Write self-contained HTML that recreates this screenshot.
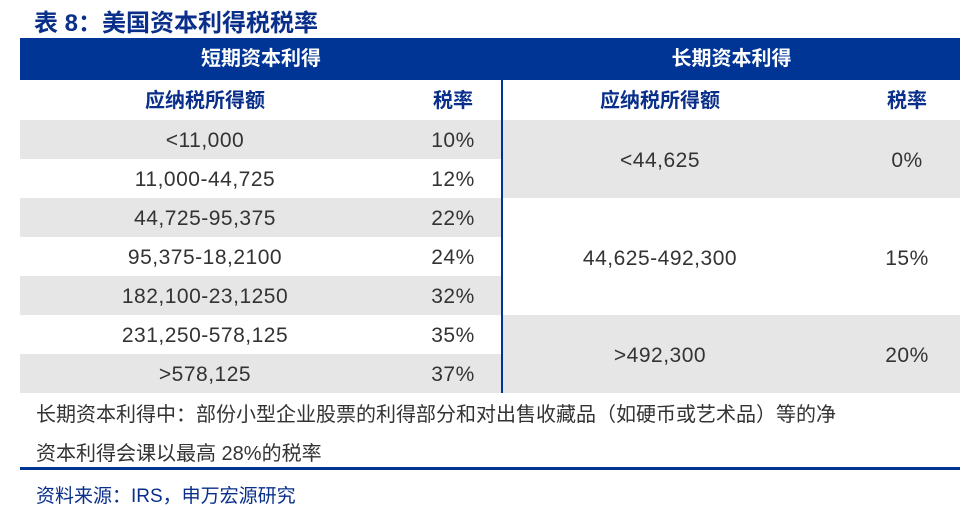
<!DOCTYPE html>
<html><head><meta charset="utf-8"><style>
body{margin:0;width:976px;height:510px;background:#fff;font-family:"Liberation Sans","Noto Sans CJK SC",sans-serif;position:relative;overflow:hidden;color:#333}
.a{position:absolute}
.t{left:34px;top:3px;font-size:24px;font-weight:bold;color:#0a2f8a}
.hb{left:20px;top:38px;width:940px;height:42px;background:#003595}
.hd{top:38px;height:42px;line-height:42px;color:#fff;font-weight:bold;font-size:20px;text-align:center}
.sh{top:80px;height:40px;line-height:42px;color:#0a2f8a;font-weight:bold;font-size:20px;text-align:center}
.r{left:20px;width:482px;height:39px}
.c{line-height:41px;font-size:21px;text-align:center;letter-spacing:0.5px}
.g{background:#e6e6e6}
</style></head><body>
<div class="a t">表 8：美国资本利得税税率</div>
<div class="a hb"></div>
<div class="a hd" style="left:20px;width:482px">短期资本利得</div>
<div class="a hd" style="left:503px;width:457px">长期资本利得</div>
<div class="a sh" style="left:70px;width:270px">应纳税所得额</div>
<div class="a sh" style="left:413px;width:80px">税率</div>
<div class="a sh" style="left:545px;width:230px">应纳税所得额</div>
<div class="a sh" style="left:867px;width:80px">税率</div>
<div id="rows"></div>
<div class="a g" style="left:503px;top:120px;width:457px;height:78px"></div>
<div class="a c" style="left:545px;top:140px;width:230px">&lt;44,625</div>
<div class="a c" style="left:867px;top:140px;width:80px">0%</div>
<div class="a c" style="left:545px;top:238px;width:230px">44,625-492,300</div>
<div class="a c" style="left:867px;top:238px;width:80px">15%</div>
<div class="a g" style="left:503px;top:315px;width:457px;height:78px"></div>
<div class="a c" style="left:545px;top:335px;width:230px">&gt;492,300</div>
<div class="a c" style="left:867px;top:335px;width:80px">20%</div>
<div class="a" style="left:501px;top:80px;width:2px;height:313px;background:#003595"></div>
<div class="a" style="left:36px;top:396px;width:930px;font-size:20px;line-height:39px;white-space:nowrap">长期资本利得中：部份小型企业股票的利得部分和对出售收藏品（如硬币或艺术品）等的净<br>资本利得会课以最高 28%的税率</div>
<div class="a" style="left:20px;top:467px;width:940px;height:3px;background:#003595"></div>
<div class="a" style="left:36px;top:481px;font-size:19px;color:#0a2f8a">资料来源：IRS，申万宏源研究</div>
<script>
const incomes=["<11,000","11,000-44,725","44,725-95,375","95,375-18,2100","182,100-23,1250","231,250-578,125",">578,125"];
const rates=["10%","12%","22%","24%","32%","35%","37%"];
const box=document.getElementById('rows');
incomes.forEach((inc,i)=>{
  const top=120+i*39;
  const r=document.createElement('div');
  r.className='a r'+(i%2===0?' g':'');
  r.style.top=top+'px';
  
  
  box.appendChild(r);
  const a=document.createElement('div');
  a.className='a c';a.style.left='70px';a.style.width='270px';a.style.top=top+'px';
  a.textContent=inc;
  
  
  box.appendChild(a);
  const b=document.createElement('div');
  b.className='a c';b.style.left='413px';b.style.width='80px';b.style.top=top+'px';
  b.textContent=rates[i];
  
  
  box.appendChild(b);
});
</script>
</body></html>
